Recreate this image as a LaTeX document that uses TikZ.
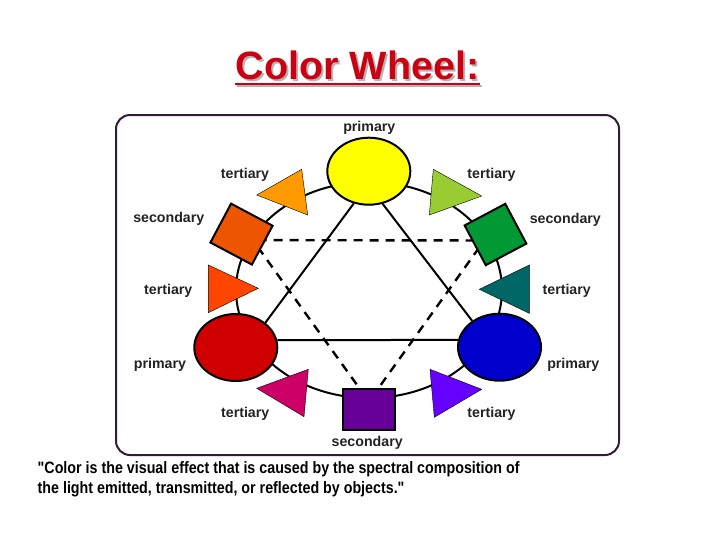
\documentclass[tikz,border=0pt]{standalone}
\usepackage{fontspec}
\setmainfont{Liberation Sans}
\usepackage{tikz}
\usetikzlibrary{shapes.geometric,backgrounds}

\definecolor{titlered}{RGB}{204,0,17}
\definecolor{shadowgray}{RGB}{180,180,180}
\definecolor{framepurple}{RGB}{50,26,56}
\definecolor{lblgray}{RGB}{35,35,35}
\definecolor{cyellow}{RGB}{255,255,0}
\definecolor{cred}{RGB}{208,0,0}
\definecolor{cblue}{RGB}{0,0,204}
\definecolor{corange}{RGB}{238,85,0}
\definecolor{cgreen}{RGB}{0,153,51}
\definecolor{cviolet}{RGB}{102,0,153}
\definecolor{tamber}{RGB}{255,153,0}
\definecolor{tlime}{RGB}{153,204,51}
\definecolor{tvermil}{RGB}{255,69,0}
\definecolor{tteal}{RGB}{0,102,102}
\definecolor{tmagenta}{RGB}{204,0,102}
\definecolor{tindigo}{RGB}{102,0,255}

\newcommand\shadowtext[1]{\makebox[0pt][l]{\hspace{1.8pt}\raisebox{-1.8pt}{\color{shadowgray}#1}}#1}

\begin{document}
\begin{tikzpicture}[x=1pt,y=-1pt,line width=2pt,
  lbl/.style={font=\fontsize{14.2}{17}\selectfont\bfseries,text=lblgray,inner sep=0pt},
  pri/.style={ellipse,draw,minimum width=83pt,minimum height=67pt,inner sep=0pt},
  sec/.style={rectangle,draw,inner sep=0pt},
  link/.style={line width=2pt},
  dashline/.style={dash pattern=on 9pt off 7pt,line width=2.4pt},
  quote/.style={anchor=base west,inner sep=0pt,font=\fontsize{16.5}{20}\selectfont\bfseries}]
  \useasboundingbox (0,0) rectangle (719,539);

  \node[anchor=base,inner sep=0pt,text=titlered,font=\fontsize{39.5}{46}\selectfont\bfseries] (title) at (357.7,79.3) {\shadowtext{Color Wheel:}};
  \draw[shadowgray] ([xshift=1.8pt,yshift=-6.2pt]title.base west) -- ([xshift=1.8pt,yshift=-6.2pt]title.base east);
  \draw[titlered] ([yshift=-4.4pt]title.base west) -- ([yshift=-4.4pt]title.base east);

  \draw[framepurple,rounded corners=14pt] (116,115) rectangle (619,455);

  \node[pri,fill=cyellow] (priY) at (368.8,171.2) {};
  \node[pri,fill=cred] (priR) at (235.8,347.5) {};
  \node[pri,fill=cblue] (priB) at (499.5,347.2) {};
  \node[sec,fill=corange,minimum width=47pt,minimum height=44pt,rotate=-28] (secO) at (241.5,234.1) {};
  \node[sec,fill=cgreen,minimum width=46pt,minimum height=45pt,rotate=28] (secG) at (495.5,234.5) {};
  \node[sec,fill=cviolet,minimum width=52pt,minimum height=41pt] (secV) at (368.9,409) {};

  \begin{pgfonlayer}{background}
    \draw[link] (369,290) ellipse [x radius=133,y radius=108];
    \draw[link] (priY.245) -- (priR.40);
    \draw[link] (priY.293) -- (priB.136);
    \draw[link] (priR.10) -- (priB.170);
    \draw[dashline] ([yshift=-6pt]secO.center) -- ([yshift=-6pt]secG.center);
    \draw[dashline] ([xshift=7pt]secO.center) -- ([xshift=-10pt]secV.north);
    \draw[dashline] ([xshift=-7pt]secG.center) -- ([xshift=10pt]secV.north);
  \end{pgfonlayer}

  \filldraw[fill=tamber] (256.7,195) -- (301.7,169.3) -- (307.7,215) -- cycle;
  \filldraw[fill=tlime] (433.3,169.3) -- (481.7,196) -- (429.3,215) -- cycle;
  \filldraw[fill=tvermil] (208.3,265) -- (258.3,288.3) -- (208.3,312.7) -- cycle;
  \filldraw[fill=tteal] (479.3,289.3) -- (529.3,265) -- (529.3,313.3) -- cycle;
  \filldraw[fill=tmagenta] (256.7,388.3) -- (308.3,369.3) -- (304,416.7) -- cycle;
  \filldraw[fill=tindigo] (430,369.3) -- (481.7,389.3) -- (434.3,417.3) -- cycle;

  \node[lbl] (lPriT) at (369.3,127.7) {primary};
  \node[lbl] (lPriL) at (160,364.7) {primary};
  \node[lbl] (lPriR) at (573.3,365) {primary};
  \node[lbl] (lSecL) at (168.8,218.5) {secondary};
  \node[lbl] (lSecR) at (565.3,219.5) {secondary};
  \node[lbl] (lSecB) at (367.2,443.3) {secondary};
  \node[lbl] (lTerTL) at (245,175) {tertiary};
  \node[lbl] (lTerTR) at (491.5,175.3) {tertiary};
  \node[lbl] (lTerL) at (168.3,291) {tertiary};
  \node[lbl] (lTerR) at (566.7,291.3) {tertiary};
  \node[lbl] (lTerBL) at (245.2,414.3) {tertiary};
  \node[lbl] (lTerBR) at (491.5,413.8) {tertiary};

  \node[quote] (quote1) at (37.5,473.5) {\scalebox{0.865}[1]{\textquotedbl Color is the visual effect that is caused by the spectral composition of}};
  \node[quote] (quote2) at (37.5,493.5) {\scalebox{0.865}[1]{the light emitted, transmitted, or reflected by objects.\textquotedbl}};
\end{tikzpicture}
\end{document}
